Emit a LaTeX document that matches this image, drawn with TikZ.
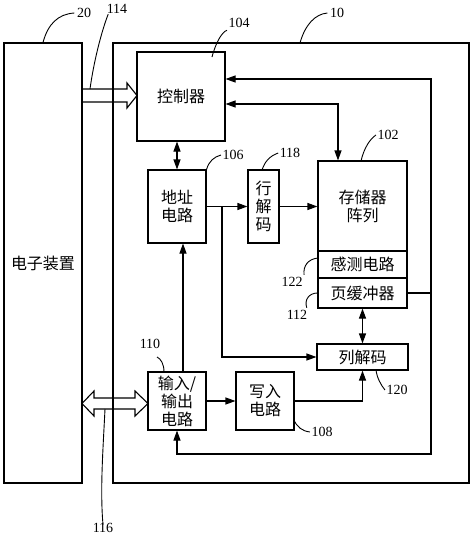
\documentclass[tikz,border=0pt]{standalone}
\usepackage{fontspec}
\setmainfont{Liberation Serif}
\newfontfamily\cjk{Noto Sans CJK SC}
\usetikzlibrary{arrows.meta}

\begin{document}
\begin{tikzpicture}[x=1pt, y=-1pt, line width=1.1pt,
    box/.style={draw, inner sep=0pt, align=center, font=\cjk\fontsize{16}{18}\selectfont},
    num/.style={inner sep=0pt, font=\fontsize{14}{14}\selectfont},
    lead/.style={line width=0.9pt},
    >={Triangle[length=10pt, width=7pt]}]
    \useasboundingbox (0,0) rectangle (474,536);

    \node[box, minimum width=78pt, minimum height=440pt] (dev) at (43,263) {电子装置};
    \node[box, minimum width=356pt, minimum height=440pt] (mem) at (291,263) {};
    \node[box, minimum width=88pt, minimum height=89pt] (ctrl) at (181,96.5) {控制器};
    \node[box, minimum width=58pt, minimum height=73pt] (addr) at (177,206.5) {地址\\电路};
    \node[box, minimum width=31pt, minimum height=73pt] (row) at (263.5,206.5) {行\\解\\码};
    \node[box, minimum width=89pt, minimum height=90pt] (arr) at (362.5,206) {存储器\\阵列};
    \node[box, minimum width=89pt, minimum height=27pt] (sense) at (362.5,264.5) {感测电路};
    \node[box, minimum width=89pt, minimum height=30pt] (pbuf) at (362.5,293) {页缓冲器};
    \node[box, minimum width=91pt, minimum height=26pt] (col) at (362.5,357) {列解码};
    \node[box, minimum width=58pt, minimum height=58pt] (io) at (177,401) {输入/\\输出\\电路};
    \node[box, minimum width=58pt, minimum height=58pt] (wr) at (265,401) {写入\\电路};

    \node[num] (n20) at (84,13) {20};
    \node[num] (n114) at (117,9) {114};
    \node[num] (n10) at (337,13) {10};
    \node[num] (n104) at (239,23) {104};
    \node[num] (n102) at (388,135) {102};
    \node[num] (n106) at (233,155) {106};
    \node[num] (n118) at (290,153) {118};
    \node[num] (n122) at (292,282) {122};
    \node[num] (n112) at (297,315) {112};
    \node[num] (n120) at (397,390) {120};
    \node[num] (n108) at (322,432) {108};
    \node[num] (n110) at (150,344) {110};
    \node[num] (n116) at (103,528) {116};

    \coordinate (rt) at (431,79);
    \coordinate (rb) at (431,454);
    \coordinate (c2) at (338,104);
    \coordinate (j) at (222,206.5);

    \draw (82,89) -- (127,89) -- (127,83) -- (137,95.5) -- (127,108) -- (127,102) -- (82,102);
    \draw (82,403.5) -- (94,391) -- (94,398) -- (135,398) -- (135,391) -- (148,403.5)
        -- (135,416) -- (135,409) -- (94,409) -- (94,416) -- cycle;

    \draw[->] (pbuf.east) -| (rt) -- (rt -| ctrl.east);
    \draw[->] (pbuf.east) -| (rb) -| (io.south);
    \draw[<->] (c2 -| ctrl.east) -| (arr.north -| c2);
    \draw[<->] (ctrl.south -| addr.north) -- (addr.north);
    \draw[->] (addr.east) -- (row.west);
    \draw[->] (row.east) -- (row.east -| arr.west);
    \draw[->] (j) |- (col.west);
    \draw[->] ([xshift=6pt]io.north) -- ([xshift=6pt]addr.south);
    \draw[<->] (pbuf.south) -- (col.north);
    \draw[->] (io.east) -- (wr.west);
    \draw[->] (wr.east) -| (col.south);

    \draw[lead] (dev.north) .. controls (48,24) and (58,14) .. ([xshift=-2pt]n20.west);
    \draw[lead] (300,43) .. controls (305,25) and (315,14) .. ([xshift=-2pt]n10.west);
    \draw[lead] (90,89) .. controls (94,60) and (102,30) .. ([xshift=2pt]n114.south west);
    \draw[lead] (212,57) .. controls (216,42) and (222,32) .. ([shift={(-1,2)}]n104.south west);
    \draw[lead] (361,161) .. controls (364,148) and (370,139) .. ([xshift=-1pt]n102.west);
    \draw[lead] (addr.north east) .. controls (209,161) and (214,157) .. ([xshift=-1pt]n106.west);
    \draw[lead] (262,170) .. controls (265,161) and (270,156) .. ([xshift=-1pt]n118.west);
    \draw[lead] (318,258) .. controls (308,259) and (303,266) .. ([shift={(1,-2)}]n122.north east);
    \draw[lead] (pbuf.west) .. controls (309,293) and (304,300) .. ([shift={(-1,-2)}]n112.north east);
    \draw[lead] (376,370) .. controls (377,378) and (381,385) .. ([xshift=-1pt]n120.west);
    \draw[lead] (294,420) .. controls (297,427) and (302,431) .. ([xshift=-1pt]n108.west);
    \draw[lead] (164,372) .. controls (164,364) and (161,359) .. (157,357);
    \draw[lead] (105,409) .. controls (103,450) and (100,490) .. ([yshift=-2pt]n116.north);
\end{tikzpicture}
\end{document}
